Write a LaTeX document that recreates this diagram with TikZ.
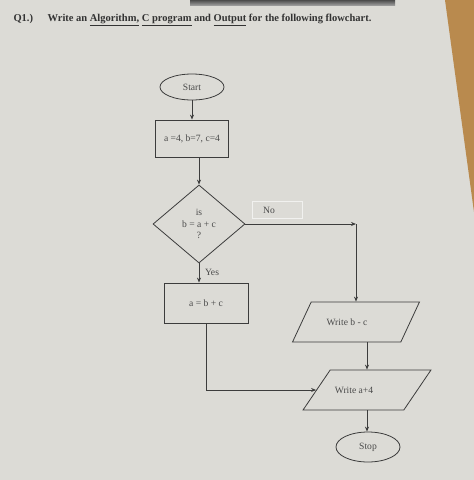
\documentclass[tikz,border=0pt]{standalone}
\usepackage{fontspec}
\setmainfont{Liberation Serif}
\usetikzlibrary{shapes.geometric,arrows.meta}
\definecolor{paper}{HTML}{DCDBD6}
\definecolor{ink}{HTML}{3C3C3C}
\definecolor{txt}{HTML}{4A4A4A}
\definecolor{wood}{HTML}{B98A4E}
\begin{document}
\begin{tikzpicture}[x=1pt,y=-1pt,
  every node/.style={text=txt,font=\fontsize{9.6}{11}\selectfont},
  line/.style={draw=ink,line width=0.8pt},
  arr/.style={line,-{Stealth[length=5pt,width=4pt]}},
  term/.style={ellipse,draw=ink,line width=0.8pt,minimum width=64pt,inner sep=0pt},
  procbox/.style={rectangle,draw=ink,line width=0.8pt,inner sep=0pt},
  iobox/.style={trapezium,trapezium left angle=55,trapezium right angle=125,trapezium stretches=true,draw=ink,line width=0.8pt,minimum width=127pt,minimum height=40pt,inner sep=0pt},
  decision/.style={diamond,draw=ink,line width=0.8pt,minimum width=92pt,minimum height=78pt,inner sep=0pt,align=center,font=\fontsize{9.6}{11.5}\selectfont}]
\useasboundingbox (0,0) rectangle (474,480);
\fill[paper] (0,0) rectangle (474,480);
\shade[top color=black!70,bottom color=black!40] (190,0) rectangle (395,5);
\fill[wood] (445,0) -- (474,0) -- (474,212) -- cycle;
% title
\node[anchor=west,font=\bfseries\fontsize{10.5}{12}\selectfont,text=black!80] (q) at (10,19) {Q1.)};
\node[anchor=west,font=\bfseries\fontsize{10.5}{12}\selectfont,text=black!80] (title) at (44,20)
  {Write an \underline{Algorithm,} \underline{C program} and \underline{Output} for the following flowchart.};
% flowchart
\node[term,minimum height=26pt] (start) at (192,87) {Start};
\node[procbox,minimum width=73pt,minimum height=37pt] (init) at (192,138.5) {a =4, b=7, c=4};
\node[decision] (dia) at (199,224) {is\\ b = a + c\\ ?};
\node[procbox,minimum width=84pt,minimum height=40pt] (calc) at (206,303) {a = b + c};
\node[iobox] (wbc) at (356,322) {\hspace*{-18pt}Write b - c};
\node[iobox,minimum width=128pt] (wa4) at (367,390) {\hspace*{-26pt}Write a+4};
\node[term,minimum height=30pt] (stop) at (368,447) {Stop};
\node[draw=white!60!paper,line width=0.6pt,minimum width=50pt,minimum height=17pt,inner sep=0pt] (no) at (277,210) {\hspace*{-16pt}No};
\node (yes) at (212,272) {Yes};
\coordinate (corner) at (wbc.north |- dia.east);
% connectors
\draw[arr] (start.south) -- (init.north);
\draw[arr] (init.south -| dia.north) -- (dia.north);
\draw[arr] (dia.east) -- (corner);
\draw[arr] (corner) -- (wbc.north);
\draw[arr] (dia.south) -- (dia.south |- calc.north);
\draw[arr] (calc.south) |- (wa4.west);
\draw[arr] (wbc.south -| wa4.north) -- (wa4.north);
\draw[arr] (wa4.south) -- (wa4.south |- stop.north);
\end{tikzpicture}
\end{document}
